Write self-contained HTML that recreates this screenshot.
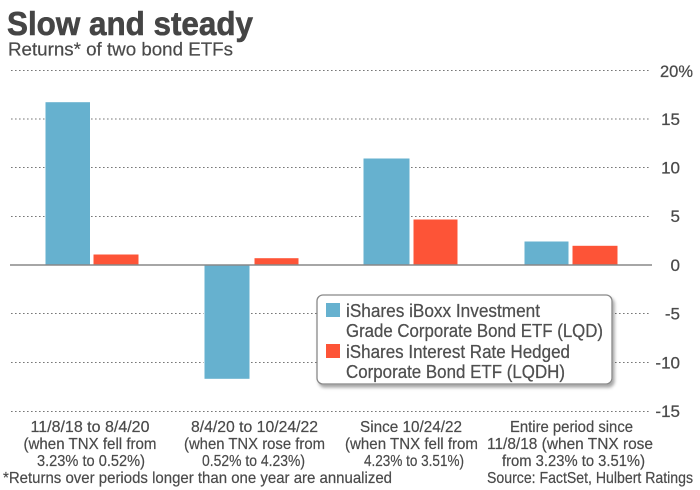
<!DOCTYPE html>
<html><head><meta charset="utf-8"><style>
html,body{margin:0;padding:0;background:#fff;}
svg{display:block;font-family:"Liberation Sans",Arial,sans-serif;}
</style></head><body>
<svg width="700" height="490" viewBox="0 0 700 490" xmlns="http://www.w3.org/2000/svg">
<defs>
<filter id="sh" x="-10%" y="-10%" width="130%" height="140%">
<feDropShadow dx="2" dy="3" stdDeviation="1.5" flood-color="#000" flood-opacity="0.35"/>
</filter>
</defs>
<rect width="700" height="490" fill="#fff"/>
<text x="7" y="35" font-size="33" font-weight="bold" fill="#454545" stroke="#454545" stroke-width="0.6" textLength="246" lengthAdjust="spacingAndGlyphs">Slow and steady</text>
<text x="8" y="55.5" font-size="18" fill="#4a4a4a" stroke="#4a4a4a" stroke-width="0.2" textLength="225" lengthAdjust="spacingAndGlyphs">Returns* of two bond ETFs</text>

<g stroke="#777" stroke-width="1" stroke-dasharray="1.6 2.4">
<line x1="11" y1="70.5" x2="650" y2="70.5"/>
<line x1="11" y1="119" x2="650" y2="119"/>
<line x1="11" y1="167.5" x2="650" y2="167.5"/>
<line x1="11" y1="216.5" x2="650" y2="216.5"/>
<line x1="11" y1="313.5" x2="650" y2="313.5"/>
<line x1="11" y1="362.5" x2="650" y2="362.5"/>
<line x1="11" y1="411.5" x2="650" y2="411.5"/>
</g>

<g fill="#4a4a4a" stroke="#4a4a4a" stroke-width="0.25" font-size="17">
<text x="660" y="77" textLength="33" lengthAdjust="spacingAndGlyphs">20%</text>
<text x="680" y="125" text-anchor="end">15</text>
<text x="680" y="173.5" text-anchor="end">10</text>
<text x="680" y="222" text-anchor="end">5</text>
<text x="680" y="271" text-anchor="end">0</text>
<text x="680" y="319.5" text-anchor="end">-5</text>
<text x="680" y="368.5" text-anchor="end">-10</text>
<text x="680" y="417" text-anchor="end">-15</text>
</g>

<g stroke="#fff" stroke-width="1">
<rect x="45" y="101.7" width="45.5" height="163.3" fill="#66b1cf"/>
<rect x="93" y="254" width="46" height="11" fill="#fd5437"/>
<rect x="204" y="265" width="46" height="114.3" fill="#66b1cf"/>
<rect x="254" y="257.7" width="45" height="7.3" fill="#fd5437"/>
<rect x="363" y="158" width="47" height="107" fill="#66b1cf"/>
<rect x="413" y="219" width="45" height="46" fill="#fd5437"/>
<rect x="524" y="241" width="45" height="24" fill="#66b1cf"/>
<rect x="572" y="245.3" width="46" height="19.7" fill="#fd5437"/>
</g>
<line x1="10" y1="265" x2="652" y2="265" stroke="#888" stroke-width="1.6"/>

<rect x="317" y="295" width="295" height="89" rx="6" ry="6" fill="#fff" stroke="#888" stroke-width="1.3" filter="url(#sh)"/>
<rect x="326" y="303" width="14" height="14" fill="#66b1cf"/>
<rect x="326" y="344" width="14" height="14" fill="#fd5437"/>
<g fill="#4f4f4f" stroke="#4f4f4f" stroke-width="0.25" font-size="18">
<text x="346" y="317" textLength="194" lengthAdjust="spacingAndGlyphs">iShares iBoxx Investment</text>
<text x="346" y="337" textLength="257" lengthAdjust="spacingAndGlyphs">Grade Corporate Bond ETF (LQD)</text>
<text x="346" y="358" textLength="224" lengthAdjust="spacingAndGlyphs">iShares Interest Rate Hedged</text>
<text x="346" y="378" textLength="219" lengthAdjust="spacingAndGlyphs">Corporate Bond ETF (LQDH)</text>
</g>

<g fill="#4a4a4a" stroke="#4a4a4a" stroke-width="0.2" font-size="16" text-anchor="middle">
<text x="90" y="432" textLength="119" lengthAdjust="spacingAndGlyphs">11/8/18 to 8/4/20</text>
<text x="90" y="449" textLength="133" lengthAdjust="spacingAndGlyphs">(when TNX fell from</text>
<text x="91" y="466" textLength="108" lengthAdjust="spacingAndGlyphs">3.23% to 0.52%)</text>
<text x="254.5" y="432" textLength="127" lengthAdjust="spacingAndGlyphs">8/4/20 to 10/24/22</text>
<text x="254.5" y="449" textLength="141" lengthAdjust="spacingAndGlyphs">(when TNX rose from</text>
<text x="253.5" y="466" textLength="103" lengthAdjust="spacingAndGlyphs">0.52% to 4.23%)</text>
<text x="411" y="432" textLength="102" lengthAdjust="spacingAndGlyphs">Since 10/24/22</text>
<text x="411.5" y="449" textLength="133" lengthAdjust="spacingAndGlyphs">(when TNX fell from</text>
<text x="414" y="466" textLength="100" lengthAdjust="spacingAndGlyphs">4.23% to 3.51%)</text>
<text x="571.5" y="432" textLength="123" lengthAdjust="spacingAndGlyphs">Entire period since</text>
<text x="570" y="449" textLength="166" lengthAdjust="spacingAndGlyphs">11/8/18 (when TNX rose</text>
<text x="573.5" y="466" textLength="143" lengthAdjust="spacingAndGlyphs">from 3.23% to 3.51%)</text>
</g>

<g fill="#4a4a4a" stroke="#4a4a4a" stroke-width="0.2" font-size="16">
<text x="3" y="483" textLength="389" lengthAdjust="spacingAndGlyphs">*Returns over periods longer than one year are annualized</text>
<text x="693" y="483" text-anchor="end" textLength="206" lengthAdjust="spacingAndGlyphs">Source: FactSet, Hulbert Ratings</text>
</g>
</svg>
</body></html>
